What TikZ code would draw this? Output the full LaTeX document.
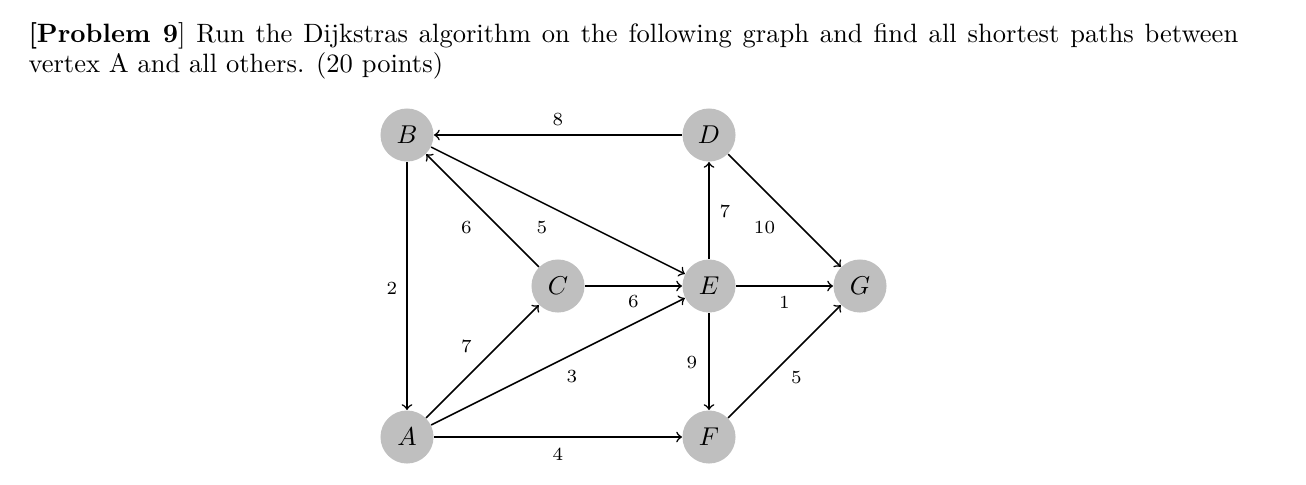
\documentclass[tikz,border=0pt]{standalone}
\begin{document}
\begin{tikzpicture}[x=0.3883pt,y=-0.3883pt,
  vtx/.style={circle,fill=gray!50,minimum size=20.6pt,inner sep=0pt,font=\fontsize{10.3}{12}\selectfont},
  edge/.style={->,semithick},
  lbl/.style={font=\fontsize{7.2}{8}\selectfont,inner sep=0pt}]
\useasboundingbox (0,0) rectangle (1306,484);
\node[anchor=base west,text width=469.75pt,align=justify,inner sep=0pt,font=\fontsize{10.3}{12}\selectfont] (title) at (28,42)
  {\textbf{[Problem 9}] Run the Dijkstras algorithm on the following graph and find all shortest paths between\linebreak vertex A and all others. (20 points)};
\node[vtx] (B) at (407,135) {$B$};
\node[vtx] (D) at (709,135) {$D$};
\node[vtx] (C) at (558,286) {$C$};
\node[vtx] (E) at (709,286) {$E$};
\node[vtx] (G) at (860,286) {$G$};
\node[vtx] (A) at (407,437) {$A$};
\node[vtx] (F) at (709,437) {$F$};
\draw[edge] (D) -- node[lbl,shift={(0,-15)}] {8} (B);
\draw[edge] (B) -- node[lbl,shift={(-15,2)}] {2} (A);
\draw[edge] (C) -- node[lbl,shift={(-16,17)}] {6} (B);
\draw[edge] (B) -- node[lbl,shift={(-16,17)}] {5} (E);
\draw[edge] (E) -- node[lbl,shift={(16,1)}] {7} (D);
\draw[edge] (D) -- node[lbl,shift={(-20,17)}] {10} (G);
\draw[edge] (C) -- node[lbl,shift={(0,16)}] {6} (E);
\draw[edge] (E) -- node[lbl,shift={(0,16)}] {1} (G);
\draw[edge] (A) -- node[lbl,shift={(-16,-15)}] {7} (C);
\draw[edge] (A) -- node[lbl,shift={(14,15)}] {3} (E);
\draw[edge] (E) -- node[lbl,shift={(-17,1)}] {9} (F);
\draw[edge] (F) -- node[lbl,shift={(12,16)}] {5} (G);
\draw[edge] (A) -- node[lbl,shift={(0,17)}] {4} (F);
\end{tikzpicture}
\end{document}
